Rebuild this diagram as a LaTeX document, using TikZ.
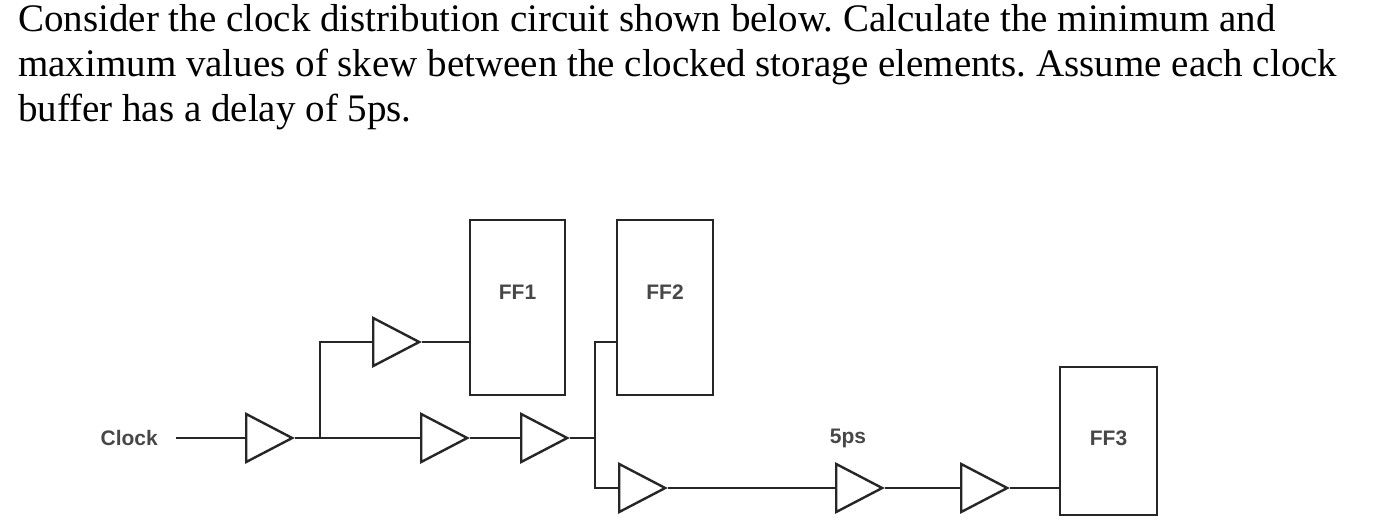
\documentclass[tikz,border=0pt]{standalone}
\usepackage{fontspec}
\setmainfont{Liberation Serif}
\newfontfamily\lab{Liberation Sans}
\usetikzlibrary{shapes.geometric}
\begin{document}
\begin{tikzpicture}[x=1pt,y=-1pt,
  wire/.style={line width=2.6pt,draw=black!85},
  buf/.style={isosceles triangle,isosceles triangle stretches,shape border rotate=0,draw=black!85,line width=2.4pt,fill=white,inner sep=0,minimum width=48pt,minimum height=46pt,anchor=west},
  ff/.style={draw=black!85,line width=2.6pt,fill=white,inner sep=0},
  lbl/.style={font=\lab\fontsize{21}{24}\selectfont\bfseries,text=black!72}]
\useasboundingbox (0,0) rectangle (1396,528);
\node[anchor=north west,align=left,inner sep=0,font=\fontsize{39}{45}\selectfont\frenchspacing] (q) at (18,4)
{Consider the clock distribution circuit shown below. Calculate the minimum and\\
maximum values of skew between the clocked storage elements. Assume each clock\\
buffer has a delay of 5ps.};
% FFs
\node[ff,minimum width=95pt,minimum height=175pt] (ff1) at (517.5,307.5) {};
\node[lbl] at (517.5,292) {FF1};
\node[ff,minimum width=96pt,minimum height=175pt] (ff2) at (665,307.5) {};
\node[lbl] at (665,292) {FF2};
\node[ff,minimum width=97pt,minimum height=148pt] (ff3) at (1108.5,441) {};
\node[lbl] at (1108.5,438) {FF3};
\node[lbl,anchor=east,inner sep=0] (clk) at (158,438) {Clock};
\node[lbl] (d5) at (848,438) {5ps};
% buffers
\node[buf] (b1) at (245,438) {};
\node[buf] (b2) at (372,342) {};
\node[buf] (b3) at (420,438) {};
\node[buf] (b4) at (520,438) {};
\node[buf] (b5) at (618,488) {};
\node[buf] (b6) at (835,488) {};
\node[buf] (b7) at (960,488) {};
\coordinate (j1) at (320,438);
\coordinate (j2) at (595,438);
% wires
\draw[wire] (clk.east)++(18,0) -- (b1.west);
\draw[wire] (b1.apex) -- (j1) -- (b3.west);
\draw[wire] (j1) |- (b2.west);
\draw[wire] (b2.apex) -- (ff1.west |- b2.apex);
\draw[wire] (b3.apex) -- (b4.west);
\draw[wire] (b4.apex) -- (j2);
\draw[wire] (ff2.west |- 0,342) -| (j2) |- (b5.west);
\draw[wire] (b5.apex) -- (b6.west);
\draw[wire] (b6.apex) -- (b7.west);
\draw[wire] (b7.apex) -- (ff3.west |- b7.apex);
\end{tikzpicture}
\end{document}
